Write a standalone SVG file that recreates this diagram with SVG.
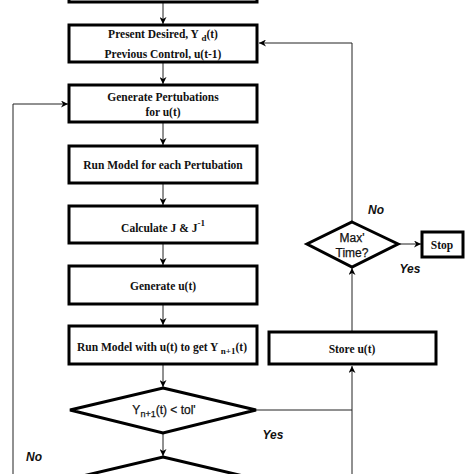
<svg xmlns="http://www.w3.org/2000/svg" width="474" height="474" viewBox="0 0 474 474">
<defs>
<marker id="ah" viewBox="0 0 10 10" refX="10" refY="5" markerWidth="7" markerHeight="7" orient="auto" markerUnits="userSpaceOnUse">
<path d="M0,0 L10,5 L0,10 L3,5 Z" fill="#000"/>
</marker>
<style>
.box{fill:#fff;stroke:#000;stroke-width:3}
.dia{fill:#fff;stroke:#000;stroke-width:3;stroke-linejoin:miter}
.lbl{font-family:"Liberation Serif","Times New Roman",serif;font-weight:bold;font-size:11.5px;fill:#111;text-anchor:middle}
.sans{font-family:"Liberation Sans",Arial,sans-serif;font-size:12px;fill:#111;stroke:#111;stroke-width:0.25;text-anchor:middle}
.yn{font-family:"Liberation Sans",Arial,sans-serif;font-size:12px;font-weight:bold;font-style:italic;fill:#111;text-anchor:middle}
.con{fill:none;stroke:#222;stroke-width:1}
</style>
</defs>
<rect width="474" height="474" fill="#fff"/>

<g id="connectors">
<line class="con" x1="163" y1="3" x2="163" y2="24" marker-end="url(#ah)"/>
<line class="con" x1="163" y1="63" x2="163" y2="84" marker-end="url(#ah)"/>
<line class="con" x1="163" y1="123" x2="163" y2="145" marker-end="url(#ah)"/>
<line class="con" x1="163" y1="184" x2="163" y2="205" marker-end="url(#ah)"/>
<line class="con" x1="163" y1="244" x2="163" y2="265" marker-end="url(#ah)"/>
<line class="con" x1="163" y1="305" x2="163" y2="325" marker-end="url(#ah)"/>
<line class="con" x1="163" y1="365" x2="163" y2="387" marker-end="url(#ah)"/>
<line class="con" x1="163" y1="434" x2="163" y2="456" marker-end="url(#ah)"/>
<polyline class="con" points="13,480 13,104 68,104" marker-end="url(#ah)"/>
<polyline class="con" points="352,221 352,43 259,43" marker-end="url(#ah)"/>
<polyline class="con" points="256,410 352,410 352,366" marker-end="url(#ah)"/>
<line class="con" x1="352" y1="410" x2="352" y2="480"/>
<line class="con" x1="352" y1="331" x2="352" y2="268" marker-end="url(#ah)"/>
<line class="con" x1="399" y1="244" x2="421" y2="244" marker-end="url(#ah)"/>
</g>

<g id="n0"><rect class="box" x="69" y="-30" width="188" height="32"/></g>

<g id="n1">
<rect class="box" x="69" y="25" width="188" height="37"/>
<text class="lbl" x="163" y="38">Present Desired, Y <tspan font-size="9" dy="3">d</tspan><tspan dy="-3">(t)</tspan></text>
<text class="lbl" x="163" y="58">Previous Control, u(t-1)</text>
</g>

<g id="n2">
<rect class="box" x="69" y="85" width="188" height="37"/>
<text class="lbl" x="163" y="101">Generate Pertubations</text>
<text class="lbl" x="163" y="116">for u(t)</text>
</g>

<g id="n3">
<rect class="box" x="69" y="146" width="188" height="37"/>
<text class="lbl" x="163" y="169">Run Model for each Pertubation</text>
</g>

<g id="n4">
<rect class="box" x="69" y="206" width="188" height="37"/>
<text class="lbl" x="163" y="232">Calculate J &amp; J<tspan font-size="9" dy="-6">-1</tspan></text>
</g>

<g id="n5">
<rect class="box" x="69" y="266" width="188" height="38"/>
<text class="lbl" x="163" y="290">Generate u(t)</text>
</g>

<g id="n6">
<rect class="box" x="69" y="326" width="188" height="38"/>
<text class="lbl" x="162" y="351">Run Model with u(t) to get Y <tspan font-size="9" dy="3">n+1</tspan><tspan dy="-3">(t)</tspan></text>
</g>

<g id="d1">
<polygon class="dia" points="163,388 256,410 163,433 70,410"/>
<text class="sans" x="164" y="414">Y<tspan font-size="9" dy="3">n+1</tspan><tspan dy="-3">(t) &lt; tol'</tspan></text>
</g>

<g id="d2">
<polygon class="dia" points="163,457 256,479 163,502 70,479"/>
</g>

<g id="n7">
<rect class="box" x="269" y="332" width="167" height="32"/>
<text class="lbl" x="352" y="353">Store u(t)</text>
</g>

<g id="d3">
<polygon class="dia" points="352,222 398,244 352,267 307,244"/>
<text class="sans" x="352" y="242">Max'</text>
<text class="sans" x="352" y="257">Time?</text>
</g>

<g id="n8">
<rect class="box" x="422" y="232" width="41" height="25"/>
<text class="lbl" x="442" y="249">Stop</text>
</g>

<g id="labels">
<text class="yn" x="376" y="214">No</text>
<text class="yn" x="410" y="273">Yes</text>
<text class="yn" x="273" y="439">Yes</text>
<text class="yn" x="34" y="461">No</text>
</g>
</svg>
